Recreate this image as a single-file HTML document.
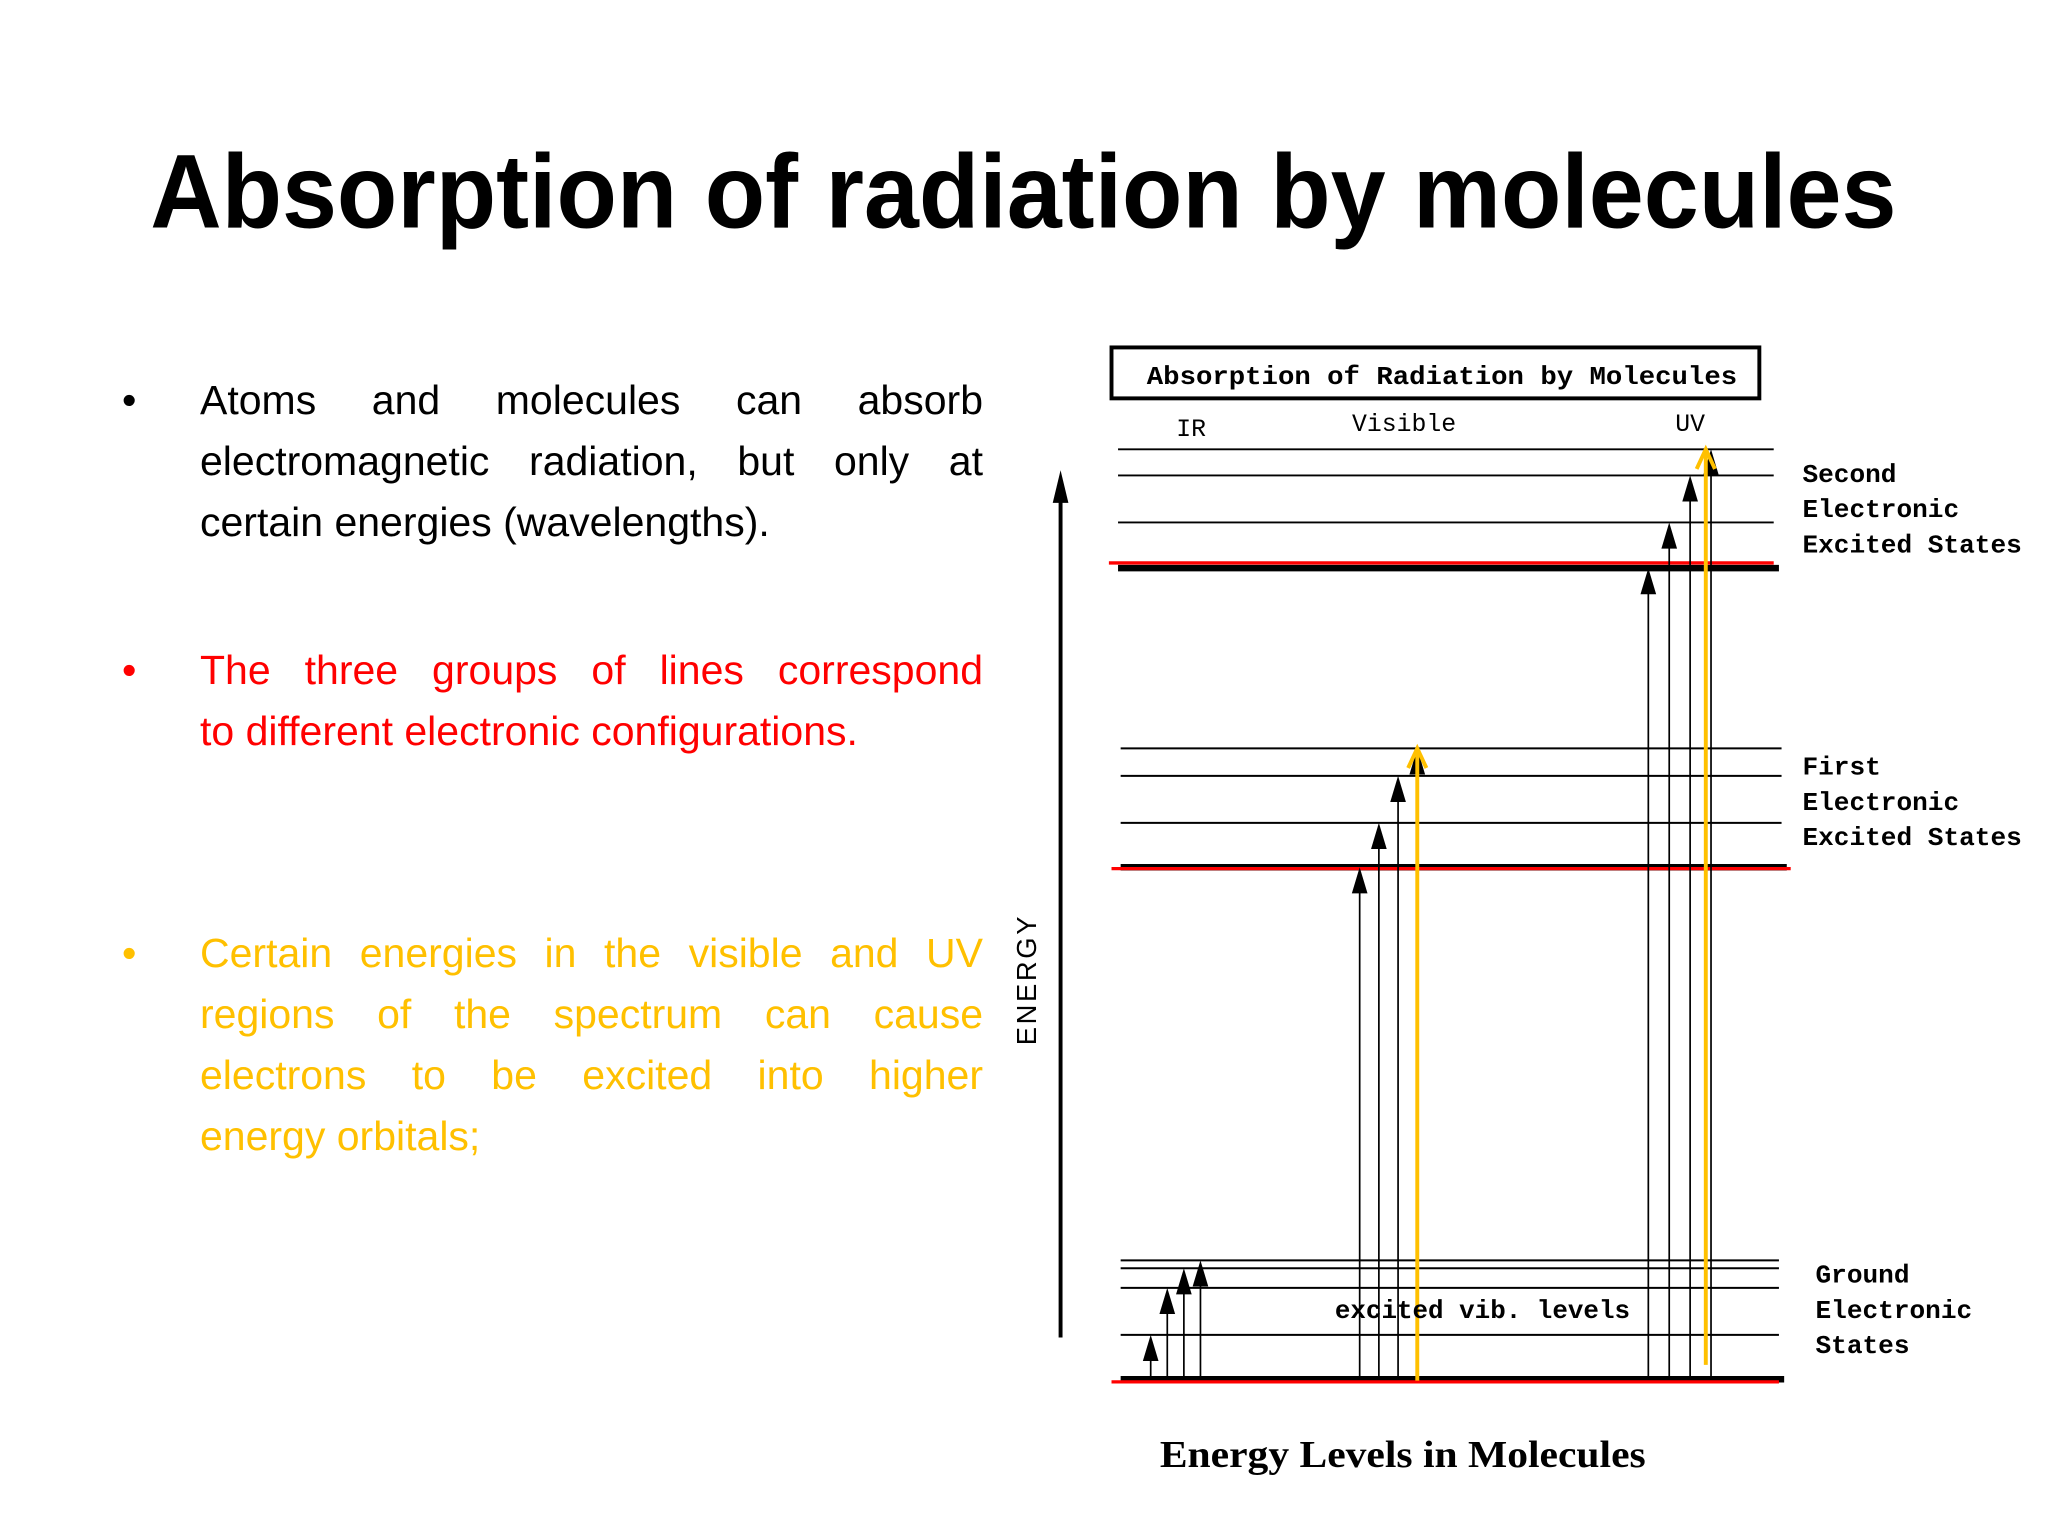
<!DOCTYPE html>
<html><head><meta charset="utf-8"><style>
html,body{margin:0;padding:0;background:#fff;}
#wrap{position:relative;width:2048px;height:1536px;overflow:hidden;background:#fff;}
svg{position:absolute;left:0;top:0;}
.bl{position:absolute;left:200px;width:783px;font-family:"Liberation Sans",sans-serif;font-size:41px;line-height:61px;}
.ln{white-space:nowrap;text-align:justify;text-align-last:justify;}
.ln.last{text-align-last:left;}
.bu{position:absolute;left:122px;font-family:"Liberation Sans",sans-serif;font-size:41px;line-height:61px;}
</style></head><body>
<div id="wrap">
<svg id="chart" width="2048" height="1536" viewBox="0 0 1568 1176">
<text x="115" y="174" font-family="Liberation Sans, sans-serif" font-weight="bold" font-size="80" textLength="1337" lengthAdjust="spacingAndGlyphs">Absorption of radiation by molecules</text>
<rect x="851" y="266" width="496" height="39" fill="none" stroke="#000" stroke-width="3"/>
<text x="1104" y="294" text-anchor="middle" font-family="Liberation Mono, monospace" font-weight="bold" font-size="20" textLength="452" lengthAdjust="spacingAndGlyphs">Absorption of Radiation by Molecules</text>
<text x="912" y="334" text-anchor="middle" font-family="Liberation Mono, monospace" font-size="19">IR</text>
<text x="1075" y="330" text-anchor="middle" font-family="Liberation Mono, monospace" font-size="19">Visible</text>
<text x="1294" y="330" text-anchor="middle" font-family="Liberation Mono, monospace" font-size="19">UV</text>
<g id="levels"></g><g id="arrows"></g>
<line x1="812" y1="1024" x2="812" y2="375" stroke="#000" stroke-width="3"/>
<polygon points="812,360 806,385 818,385" fill="#000"/>
<text transform="translate(793,750) rotate(-90)" text-anchor="middle" font-family="Liberation Sans, sans-serif" font-size="21" letter-spacing="2">ENERGY</text>
<g font-family="Liberation Mono, monospace" font-weight="bold" font-size="20">
<text x="1380" y="369"><tspan x="1380">Second</tspan><tspan x="1380" dy="27">Electronic</tspan><tspan x="1380" dy="27">Excited States</tspan></text>
<text x="1380" y="593"><tspan x="1380">First</tspan><tspan x="1380" dy="27">Electronic</tspan><tspan x="1380" dy="27">Excited States</tspan></text>
<text x="1390" y="982"><tspan x="1390">Ground</tspan><tspan x="1390" dy="27">Electronic</tspan><tspan x="1390" dy="27">States</tspan></text>
<text x="1135" y="1009" text-anchor="middle" textLength="226" lengthAdjust="spacingAndGlyphs">excited vib. levels</text>
</g>
<text x="1074" y="1123" text-anchor="middle" font-family="Liberation Serif, serif" font-weight="bold" font-size="29" textLength="372" lengthAdjust="spacingAndGlyphs">Energy Levels in Molecules</text>
</svg>
<div class="bu" style="top:370px">•</div>
<div class="bl" style="top:370px;color:#000">
<div class="ln">Atoms and molecules can absorb</div>
<div class="ln">electromagnetic radiation, but only at</div>
<div class="ln last">certain energies (wavelengths).</div></div>
<div class="bu" style="top:640px;color:#ff0000">•</div>
<div class="bl" style="top:640px;color:#ff0000">
<div class="ln">The three groups of lines correspond</div>
<div class="ln last">to different electronic configurations.</div></div>
<div class="bu" style="top:923px;color:#ffc000">•</div>
<div class="bl" style="top:923px;color:#ffc000">
<div class="ln">Certain energies in the visible and UV</div>
<div class="ln">regions of the spectrum can cause</div>
<div class="ln">electrons to be excited into higher</div>
<div class="ln last">energy orbitals;</div></div>
</div>
<script>
// energy levels (relative energy units above ground state)
const groundLevels = [0, 34, 70, 85, 91];
const firstLevels = [392, 426, 462, 483];
const secondLevels = [621, 656, 692, 712];
// transitions: target energies
const irTargets = [34, 70, 85, 91];
const visTargets = [392, 426, 462, 483];
const uvTargets = [621, 656, 692, 712];
const yellowVisTarget = 483;
const yellowUvTarget = 712;

const NS = 'http://www.w3.org/2000/svg';
function yScale(e){ return 1056 - e; }
function groupX(g, i){ const starts=[881,1041,1262]; const steps=[12.7,14.7,16]; return starts[g] + i*steps[g]; }
const levelsG = document.getElementById('levels');
const arrowsG = document.getElementById('arrows');
function mk(tag, attrs, parent){ const el=document.createElementNS(NS,tag); for(const k in attrs) el.setAttribute(k,attrs[k]); parent.appendChild(el); return el; }

function drawGroup(levels, x1, x2, redOff, name){
  levels.forEach((e,i)=>{
    const y = yScale(e);
    if(i===0){
      const b = mk('line',{x1:x1,x2:x2+4,y1:y,y2:y,stroke:'#000','stroke-width':5},levelsG);
      
      
      const r = mk('line',{x1:x1-7,x2:x2+(name==='first'?7:0),y1:y+redOff,y2:y+redOff,stroke:'#ff0000','stroke-width':2.5},levelsG);
      
      
    } else {
      const l = mk('line',{x1:x1,x2:x2,y1:y,y2:y,stroke:'#000','stroke-width':1.5},levelsG);
      
      
    }
  });
}
drawGroup(groundLevels, 858, 1362, 2, 'ground');
drawGroup(firstLevels, 858, 1364, 1, 'first');
drawGroup(secondLevels, 856, 1358, -4, 'second');

function blackArrow(x, e0, e1, name){
  const y0=yScale(e0), y1=yScale(e1);
  const l = mk('line',{x1:x,x2:x,y1:y0,y2:y1+10,stroke:'#000','stroke-width':1.3},arrowsG);
  
  
  const p = mk('polygon',{points:`${x},${y1} ${x-6},${y1+20} ${x+6},${y1+20}`,fill:'#000'},arrowsG);
  
  
}
irTargets.forEach((t,i)=>blackArrow(groupX(0,i), 0, t, 'ir-transition'));
visTargets.forEach((t,i)=>blackArrow(groupX(1,i), 0, t, 'visible-transition'));
uvTargets.forEach((t,i)=>blackArrow(groupX(2,i), 0, t, 'uv-transition'));

function yellowArrow(x, e0, e1, name){
  const y0=yScale(e0), y1=yScale(e1);
  const l = mk('line',{x1:x,x2:x,y1:y0,y2:y1,stroke:'#ffc000','stroke-width':3},arrowsG);
  
  
  const h = mk('polyline',{points:`${x-7},${y1+15} ${x},${y1} ${x+7},${y1+15}`,fill:'none',stroke:'#ffc000','stroke-width':3},arrowsG);
  
  
}
yellowArrow(groupX(1,3), -1, yellowVisTarget, 'visible-absorption-arrow');
yellowArrow(1306, 11, yellowUvTarget, 'uv-absorption-arrow');
</script>
</body></html>
